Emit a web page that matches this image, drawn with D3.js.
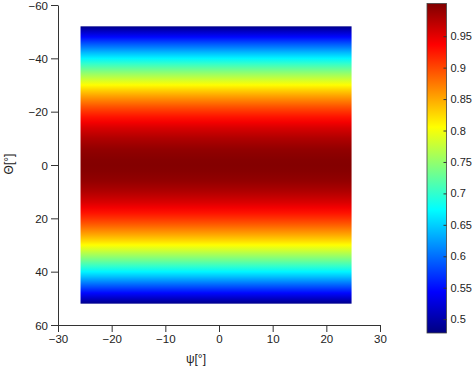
<!DOCTYPE html>
<html>
<head>
<meta charset="utf-8">
<script src="https://cdn.jsdelivr.net/npm/d3@7"></script>
<style>
  body { margin: 0; background: #fff; }
  svg text { font-family: "Liberation Sans", Arial, sans-serif; fill: #222; }
  .axis path, .axis line { stroke: #333; }
</style>
</head>
<body>
<svg id="chart" width="474" height="366"></svg>
<script>
// psi extent of the map (deg)
const psiRange = [-25.8, 24.7];
// theta rows (deg) and map value per row (constant along psi)
const thetaRows = [-52, -50, -48, -46, -44, -42, -40, -38, -36, -34, -32, -30, -28, -26, -24, -22, -20, -18, -16, -14, -12, -10, -8, -6, -4, -2,
  0, 2, 4, 6, 8, 10, 12, 14, 16, 18, 20, 22, 24, 26, 28, 30, 32, 34, 36, 38, 40, 42, 44, 46, 48, 50, 52];
const rowValues = [0.483, 0.515, 0.547, 0.579, 0.610, 0.641, 0.670, 0.700, 0.728, 0.755, 0.781, 0.806, 0.830, 0.852, 0.873, 0.893, 0.911, 0.927, 0.942, 0.956, 0.967, 0.977, 0.985, 0.992, 0.996, 0.999,
  1.000, 0.999, 0.996, 0.992, 0.985, 0.977, 0.967, 0.956, 0.942, 0.927, 0.911, 0.893, 0.873, 0.852, 0.830, 0.806, 0.781, 0.755, 0.728, 0.700, 0.670, 0.641, 0.610, 0.579, 0.547, 0.515, 0.483];

const psiTicks = [-30, -20, -10, 0, 10, 20, 30];
const thetaTicks = [-60, -40, -20, 0, 20, 40, 60];
const cbarTicks = [0.5, 0.55, 0.6, 0.65, 0.7, 0.75, 0.8, 0.85, 0.9, 0.95];
const cbarRange = [0.478, 1.002];

// jet colormap
const jetStops = [0, 0.125, 0.375, 0.625, 0.875, 1];
const jetColors = ['#000080', '#0000ff', '#00ffff', '#ffff00', '#ff0000', '#800000'];

const svg = d3.select('#chart');
const defs = svg.append('defs');

const x = d3.scaleLinear().domain([-30, 30]).range([58, 380]);
const y = d3.scaleLinear().domain([-60, 60]).range([5, 325]);
const color = d3.scaleLinear()
  .domain(jetStops.map(t => cbarRange[0] + t * (cbarRange[1] - cbarRange[0])))
  .range(jetColors)
  .clamp(true);

//// heat map ////
const y0 = y(thetaRows[0]), y1 = y(thetaRows[thetaRows.length - 1]);
let heatGrad = defs.append('linearGradient').attr('id', 'heat')
  .attr('gradientUnits', 'userSpaceOnUse')
  .attr('x1', 0).attr('x2', 0).attr('y1', y0).attr('y2', y1);
heatGrad.selectAll('stop').data(thetaRows).enter().append('stop')
  .attr('offset', d => (y(d) - y0) / (y1 - y0))
  .attr('stop-color', (d, i) => color(rowValues[i]));

svg.append('rect')
  .attr('x', x(psiRange[0])).attr('width', x(psiRange[1]) - x(psiRange[0]))
  .attr('y', y0).attr('height', y1 - y0)
  .attr('fill', 'url(#heat)');

//// axes ////
let xAxis = svg.append('g').attr('class', 'axis').attr('transform', 'translate(0,' + y(60) + ')')
  .call(d3.axisBottom(x).tickValues(psiTicks).tickSize(7).tickSizeOuter(0).tickPadding(3));
let yAxis = svg.append('g').attr('class', 'axis').attr('transform', 'translate(' + x(-30) + ',0)')
  .call(d3.axisLeft(y).tickValues(thetaTicks).tickSize(7).tickSizeOuter(0).tickPadding(3));
svg.selectAll('.axis text').style('font-size', '11.5px');
yAxis.selectAll('text').attr('dy', '0.36em');

svg.append('text').attr('x', 196).attr('y', 363).attr('text-anchor', 'middle')
  .style('font-size', '12px').text('ψ[°]');
svg.append('text').attr('transform', 'translate(13,164) rotate(-90)').attr('text-anchor', 'middle')
  .style('font-size', '12px').text('Θ[°]');

//// colorbar ////
const cb = d3.scaleLinear().domain(cbarRange).range([333, 3.5]);
const cbX = 427, cbW = 19.5;
let cbGrad = defs.append('linearGradient').attr('id', 'cbar')
  .attr('gradientUnits', 'userSpaceOnUse')
  .attr('x1', 0).attr('x2', 0).attr('y1', cb(cbarRange[0])).attr('y2', cb(cbarRange[1]));
cbGrad.selectAll('stop').data(color.domain()).enter().append('stop')
  .attr('offset', d => (d - cbarRange[0]) / (cbarRange[1] - cbarRange[0]))
  .attr('stop-color', d => color(d));

svg.append('rect').attr('x', cbX).attr('width', cbW)
  .attr('y', cb(cbarRange[1])).attr('height', cb(cbarRange[0]) - cb(cbarRange[1]))
  .attr('fill', 'url(#cbar)').attr('stroke', '#444').attr('stroke-width', 0.8);

let cbAxis = svg.append('g').attr('class', 'axis').attr('transform', 'translate(' + (cbX + cbW) + ',0)')
  .call(d3.axisRight(cb).tickValues(cbarTicks).tickFormat(d => String(d)).tickSize(-3).tickSizeOuter(0).tickPadding(4));
cbAxis.select('.domain').remove();
cbAxis.selectAll('text').style('font-size', '11px');
</script>
</body>
</html>
